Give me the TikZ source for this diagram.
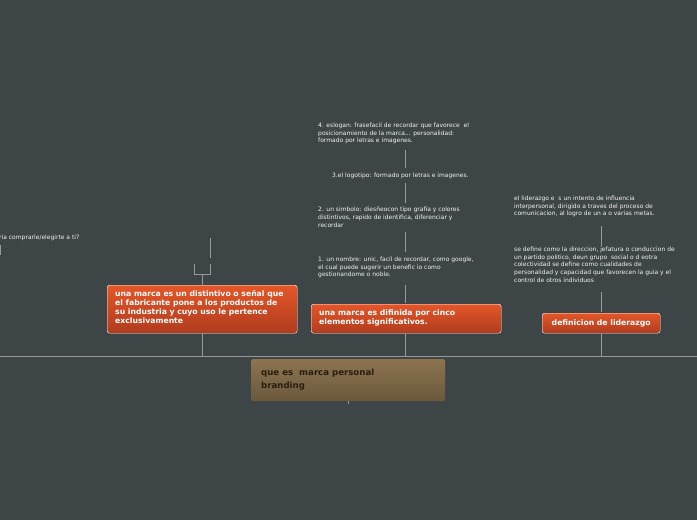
\documentclass[tikz,border=0pt]{standalone}
\usepackage{fontspec}
\setmainfont{DejaVu Sans}
\begin{document}
\begin{tikzpicture}[x=1pt,y=-1pt,
  ln/.style={draw=gray!80, line width=0.8pt},
  note/.style={text=white!90!gray, font=\fontsize{6}{7.6}\selectfont, align=left, anchor=north west, inner sep=0pt},
  obox/.style={draw=white, rounded corners=2.5pt, top color={rgb,255:red,228;green,86;blue,40}, bottom color={rgb,255:red,176;green,60;blue,30}, anchor=north west, inner sep=0pt},
  otext/.style={note, text=white, font=\bfseries\fontsize{7.7}{9.2}\selectfont}]
\definecolor{bg}{HTML}{3E4546}
\fill[bg] (0,0) rectangle (697,520);
\useasboundingbox (0,0) rectangle (697,520);
\coordinate (hl) at (0,356); \coordinate (hr) at (697,356);
\draw[ln] (hl) -- (hr);
% central
\node[draw=none, rounded corners=2pt, top color={rgb,255:red,140;green,116;blue,80}, bottom color={rgb,255:red,106;green,88;blue,60}, minimum width=194pt, minimum height=42pt, anchor=north west, inner sep=0pt] (c) at (251,359) {};
\node[anchor=north west, inner sep=0pt, align=left, text={rgb,255:red,40;green,30;blue,15}, font=\bfseries\fontsize{8.6}{13}\selectfont] (ct) at (261,369) {que es\ \ marca personal\\branding};
\coordinate (ct1) at (348,401); \coordinate (ct2) at (348,404);
\draw[ln] (ct1) -- (ct2);
% node A
\node[obox, minimum width=190pt, minimum height=48pt] (a) at (107,285) {};
\node[otext] (at) at (115,290) {una marca es un distintivo o señal que\\el fabricante pone a los productos de\\su industria y cuyo uso le pertence\\exclusivamente};
\coordinate (a1) at (202,333); \coordinate (a2) at (202,356);
\draw[ln] (a1) -- (a2);
\coordinate (a3) at (202,285); \coordinate (a4) at (202,274);
\draw[ln] (a3) -- (a4);
\coordinate (b1) at (194,264); \coordinate (b2) at (194,274); \coordinate (b3) at (210,274); \coordinate (b4) at (210,264);
\draw[ln] (b1) -- (b2) -- (b3) -- (b4);
\coordinate (b5) at (210,238); \coordinate (b6) at (210,258);
\draw[ln] (b5) -- (b6);
\node[note] (q) at (-1,235) {ria comprarle/elegirte a ti?};
\coordinate (q1) at (0,245); \coordinate (q2) at (0,255);
\draw[ln] (q1) -- (q2);
% node B
\node[obox, minimum width=190pt, minimum height=29pt] (b) at (311,304) {};
\node[otext] (bt) at (319,309) {una marca es difinida por cinco\\elementos significativos.};
\coordinate (p1) at (405,333); \coordinate (p2) at (405,356);
\draw[ln] (p1) -- (p2);
\node[note] (n1) at (318,257) {1. un nombre: unic, facil de recordar, como google,\\el cual puede sugerir un benefic io como\\gestionandome o noble.};
\node[note] (n2) at (318,207) {2. un simbolo: diesñeocon tipo grafia y colores\\distintivos, rapido de identifica, diferenciar y\\recordar};
\node[note] (n3) at (332,173) {3.el logotipo: formado por letras e imagenes.};
\node[note] (n4) at (318,123) {4. eslogan: frasefacil de recordar que favorece\ \ el\\posicionamiento de la marca... personalidad:\\formado por letras e imagenes.};
\foreach \u/\v in {285/303,232/252,183/203,150/168}{\draw[ln] (405,\u) -- (405,\v);}
% node C
\node[obox, minimum width=118pt, minimum height=20pt] (cc) at (542,313) {};
\node[text=white, font=\bfseries\fontsize{7.7}{9}\selectfont, inner sep=0pt] (cct) at (cc.center) {definicion de liderazgo};
\coordinate (r1) at (601,333); \coordinate (r2) at (601,356);
\draw[ln] (r1) -- (r2);
\node[note] (l1) at (514,247) {se define como la direccion, jefatura o conduccion de\\un partido politico, deun grupo\ \ social o d eotra\\colectividad se define como cualidades de\\personalidad y capacidad que favorecen la guia y el\\control de otros individuos};
\node[note] (l2) at (514,196) {el liderazgo e\ \ s un intento de influencia\\interpersonal, dirigido a traves del proceso de\\comunicacion, al logro de un a o varias metas.};
\draw[ln] (601,292) -- (601,312);
\draw[ln] (601,226) -- (601,246);
\end{tikzpicture}
\end{document}
